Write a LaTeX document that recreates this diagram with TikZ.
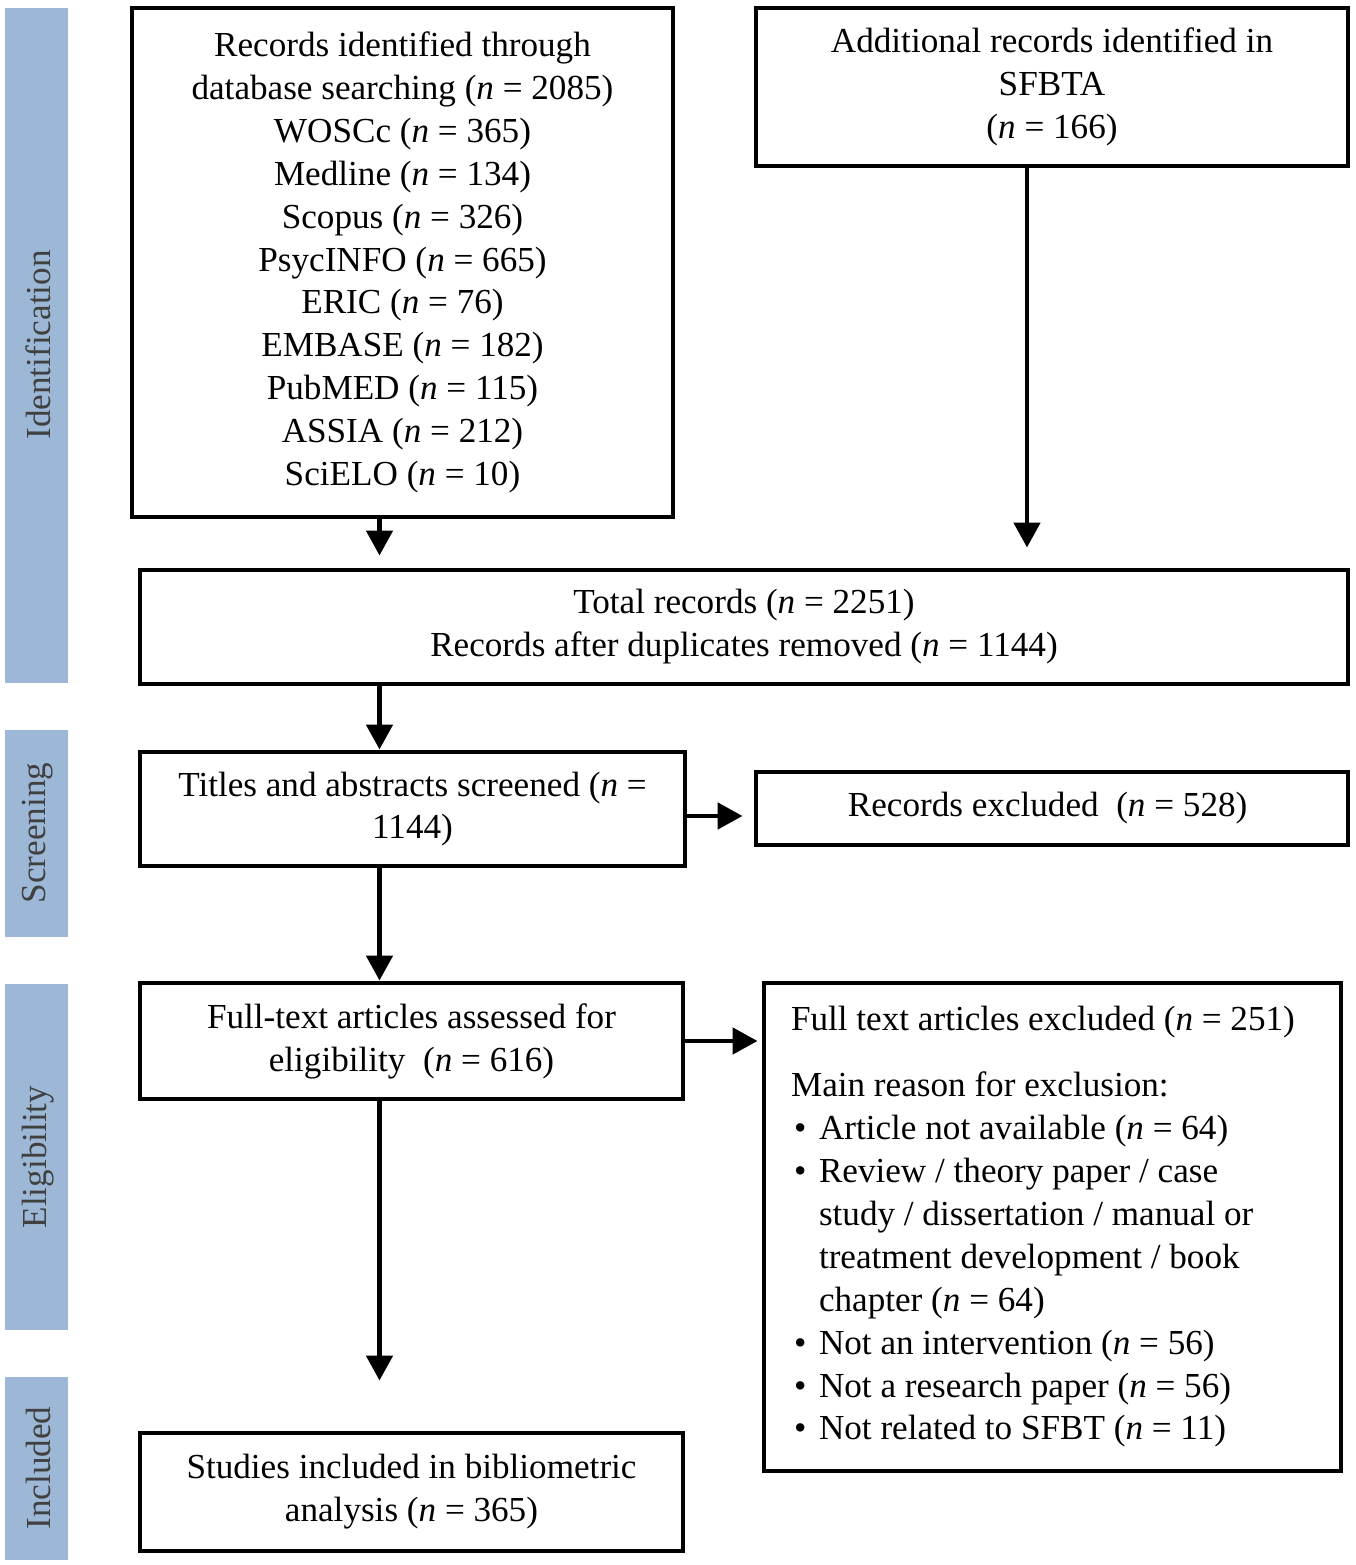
\documentclass[tikz,border=0pt]{standalone}
\usepackage{fontspec}
\setmainfont{Liberation Serif}
\usetikzlibrary{arrows.meta}

\newcommand{\exclbullet}{\makebox[0.56cm][l]{\hspace{0.06cm}\textbullet}}
\newcommand{\exclindent}{\hspace*{0.56cm}}

\begin{document}
\begin{tikzpicture}[
    box/.style={draw, line width=2.8pt, align=center, inner sep=0pt},
    phase/.style={text=phase_text, rotate=90},
    arrow/.style={line width=2.8pt, -{Triangle[width=0.52cm,length=0.5cm]}},
    font=\fontsize{20}{24.4}\selectfont
]
    \definecolor{phase_blue}{HTML}{9CB8D6}
    \definecolor{phase_text}{HTML}{404040}
    %\draw[help lines] (0,0) grid (27,31);
    \useasboundingbox (0,0) rectangle (27.10,31.30);
    \path[fill=phase_blue] (0.10,31.14) rectangle (1.36,17.64);
    \path[fill=phase_blue] (0.10,16.70) rectangle (1.36,12.56);
    \path[fill=phase_blue] (0.10,11.62) rectangle (1.36,4.70);
    \path[fill=phase_blue] (0.10,3.76) rectangle (1.36,0.10);

    \node[phase] (ident) at (0.76,24.40) {Identification};
    \node[phase] (screening) at (0.76,14.64) {Screening};
    \node[phase] (eligib) at (0.76,8.16) {Eligibility};
    \node[phase] (included) at (0.76,1.94) {Included};

    \node[box, minimum width=10.82cm, minimum height=10.18cm] (dbsearch) at (8.05,26.05) {
        Records identified through\\
        database searching (\textit{n} = 2085)\\
        WOSCc (\textit{n} = 365)\\
        Medline (\textit{n} = 134)\\
        Scopus (\textit{n} = 326)\\
        PsycINFO (\textit{n} = 665)\\
        ERIC (\textit{n} = 76)\\
        EMBASE (\textit{n} = 182)\\
        PubMED (\textit{n} = 115)\\
        ASSIA (\textit{n} = 212)\\
        SciELO (\textit{n} = 10)
    };
    \node[box, minimum width=11.84cm, minimum height=3.16cm] (additional) at (21.04,29.56) {
        Additional records identified in\\
        SFBTA\\
        (\textit{n} = 166)
    };
    \node[box, minimum width=24.16cm, minimum height=2.28cm] (total) at (14.88,18.76) {
        Total records (\textit{n} = 2251)\\
        Records after duplicates removed (\textit{n} = 1144)
    };
    \node[box, minimum width=10.90cm, minimum height=2.28cm] (titles) at (8.25,15.12) {
        Titles and abstracts screened (\textit{n} =\\
        1144)
    };
    \node[box, minimum width=11.84cm, minimum height=1.46cm] (recexcl) at (21.04,15.13) {
        Records excluded\ \ (\textit{n} = 528)
    };
    \node[box, minimum width=10.86cm, minimum height=2.32cm] (fulltext) at (8.23,10.48) {
        Full-text articles assessed for\\
        eligibility\ \ (\textit{n} = 616)
    };
    \node[box, minimum width=11.54cm, minimum height=9.76cm, text width=10.46cm, align=flush left] (ftexcl) at (21.05,6.76) {
        Full text articles excluded (\textit{n} = 251)\\[0.46cm]
        Main reason for exclusion:\\
        \exclbullet Article not available (\textit{n} = 64)\\
        \exclbullet Review / theory paper / case\\
        \exclindent study / dissertation / manual or\\
        \exclindent treatment development / book\\
        \exclindent chapter (\textit{n} = 64)\\
        \exclbullet Not an intervention (\textit{n} = 56)\\
        \exclbullet Not a research paper (\textit{n} = 56)\\
        \exclbullet Not related to SFBT (\textit{n} = 11)
    };
    \node[box, minimum width=10.86cm, minimum height=2.36cm] (studies) at (8.23,1.46) {
        Studies included in bibliometric\\
        analysis (\textit{n} = 365)
    };

    \coordinate (leftx) at (7.59,0);
    \coordinate (rightx) at (20.54,0);
    \coordinate (screeny) at (0,14.98);
    \draw[arrow, shorten >=0.24cm] (dbsearch.south -| leftx) -- (total.north -| leftx);
    \draw[arrow, shorten >=0.40cm] (additional.south -| rightx) -- (total.north -| rightx);
    \draw[arrow] (total.south -| leftx) -- (titles.north -| leftx);
    \draw[arrow, shorten >=0.22cm] (titles.east |- screeny) -- (recexcl.west |- screeny);
    \draw[arrow] (titles.south -| leftx) -- (fulltext.north -| leftx);
    \draw[arrow, shorten >=0.08cm] (fulltext.east) -- (fulltext.east -| ftexcl.west);
    \draw[arrow, shorten >=1.00cm] (fulltext.south -| leftx) -- (studies.north -| leftx);
\end{tikzpicture}
\end{document}
